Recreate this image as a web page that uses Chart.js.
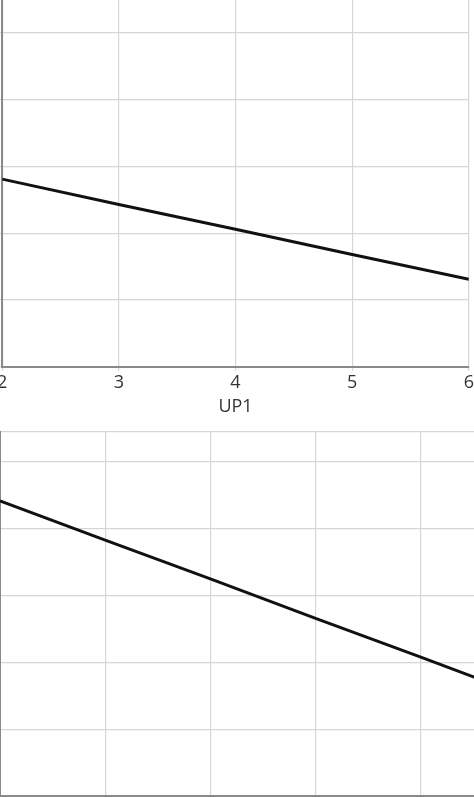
<!DOCTYPE html>
<html><head><meta charset="utf-8">
<script src="https://cdn.jsdelivr.net/npm/chart.js@4"></script>
<style>
html,body{margin:0;padding:0;width:474px;height:797px;overflow:hidden;background:#fff;position:relative}
#w1{position:absolute;left:-4px;top:-40px;width:479px;height:462px}
#w2{position:absolute;left:-4px;top:426px;width:560px;height:374px}
</style></head><body>
<div id="w1"><canvas id="c1"></canvas></div>
<div id="w2"><canvas id="c2"></canvas></div>
<script>
const topX = [2, 3, 4, 5, 6];
const topY = [2.81, 2.43, 2.06, 1.68, 1.31];
const topXTitle = "UP1";
const botX = [0, 1, 2, 3, 4, 5];
const botY = [4.42, 3.83, 3.25, 2.66, 2.08, 1.49];

const grid = {color:'#d6d6d6', lineWidth:1.2};
const border = {color:'#8a8a8a', width:2};
function ds(xs, ys){return [{data:xs.map((x,i)=>({x:x,y:ys[i]})),borderColor:'#111',borderWidth:3,pointRadius:0,tension:0}];}

new Chart(document.getElementById('c1'),{
  type:'line',
  data:{datasets:ds(topX, topY)},
  options:{responsive:true,maintainAspectRatio:false,animation:false,
    layout:{padding:{top:6,left:0,right:0}},
    plugins:{legend:{display:false},tooltip:{enabled:false}},
    scales:{
      x:{type:'linear',min:2,max:6,ticks:{stepSize:1,color:'#333',font:{family:'Open Sans',size:18},padding:1},
         grid:{...grid,tickLength:4},border:border,
         title:{display:true,text:topXTitle,color:'#333',font:{family:'Open Sans',size:18},padding:{top:2}}},
      y:{min:0,max:6,ticks:{display:false,stepSize:1},grid:{...grid,tickLength:4},border:border}
    }}
});
new Chart(document.getElementById('c2'),{
  type:'line',
  data:{datasets:ds(botX, botY)},
  options:{responsive:true,maintainAspectRatio:false,animation:false,
    layout:{padding:{top:6,left:0,right:30,bottom:0}},
    plugins:{legend:{display:false},tooltip:{enabled:false}},
    scales:{
      x:{type:'linear',min:0,max:5,ticks:{stepSize:1,display:false},grid:{...grid,tickLength:4},border:border},
      y:{min:0,max:5.45,ticks:{display:false,stepSize:1},grid:{...grid,tickLength:4},border:border}
    }}
});
</script></body></html>
